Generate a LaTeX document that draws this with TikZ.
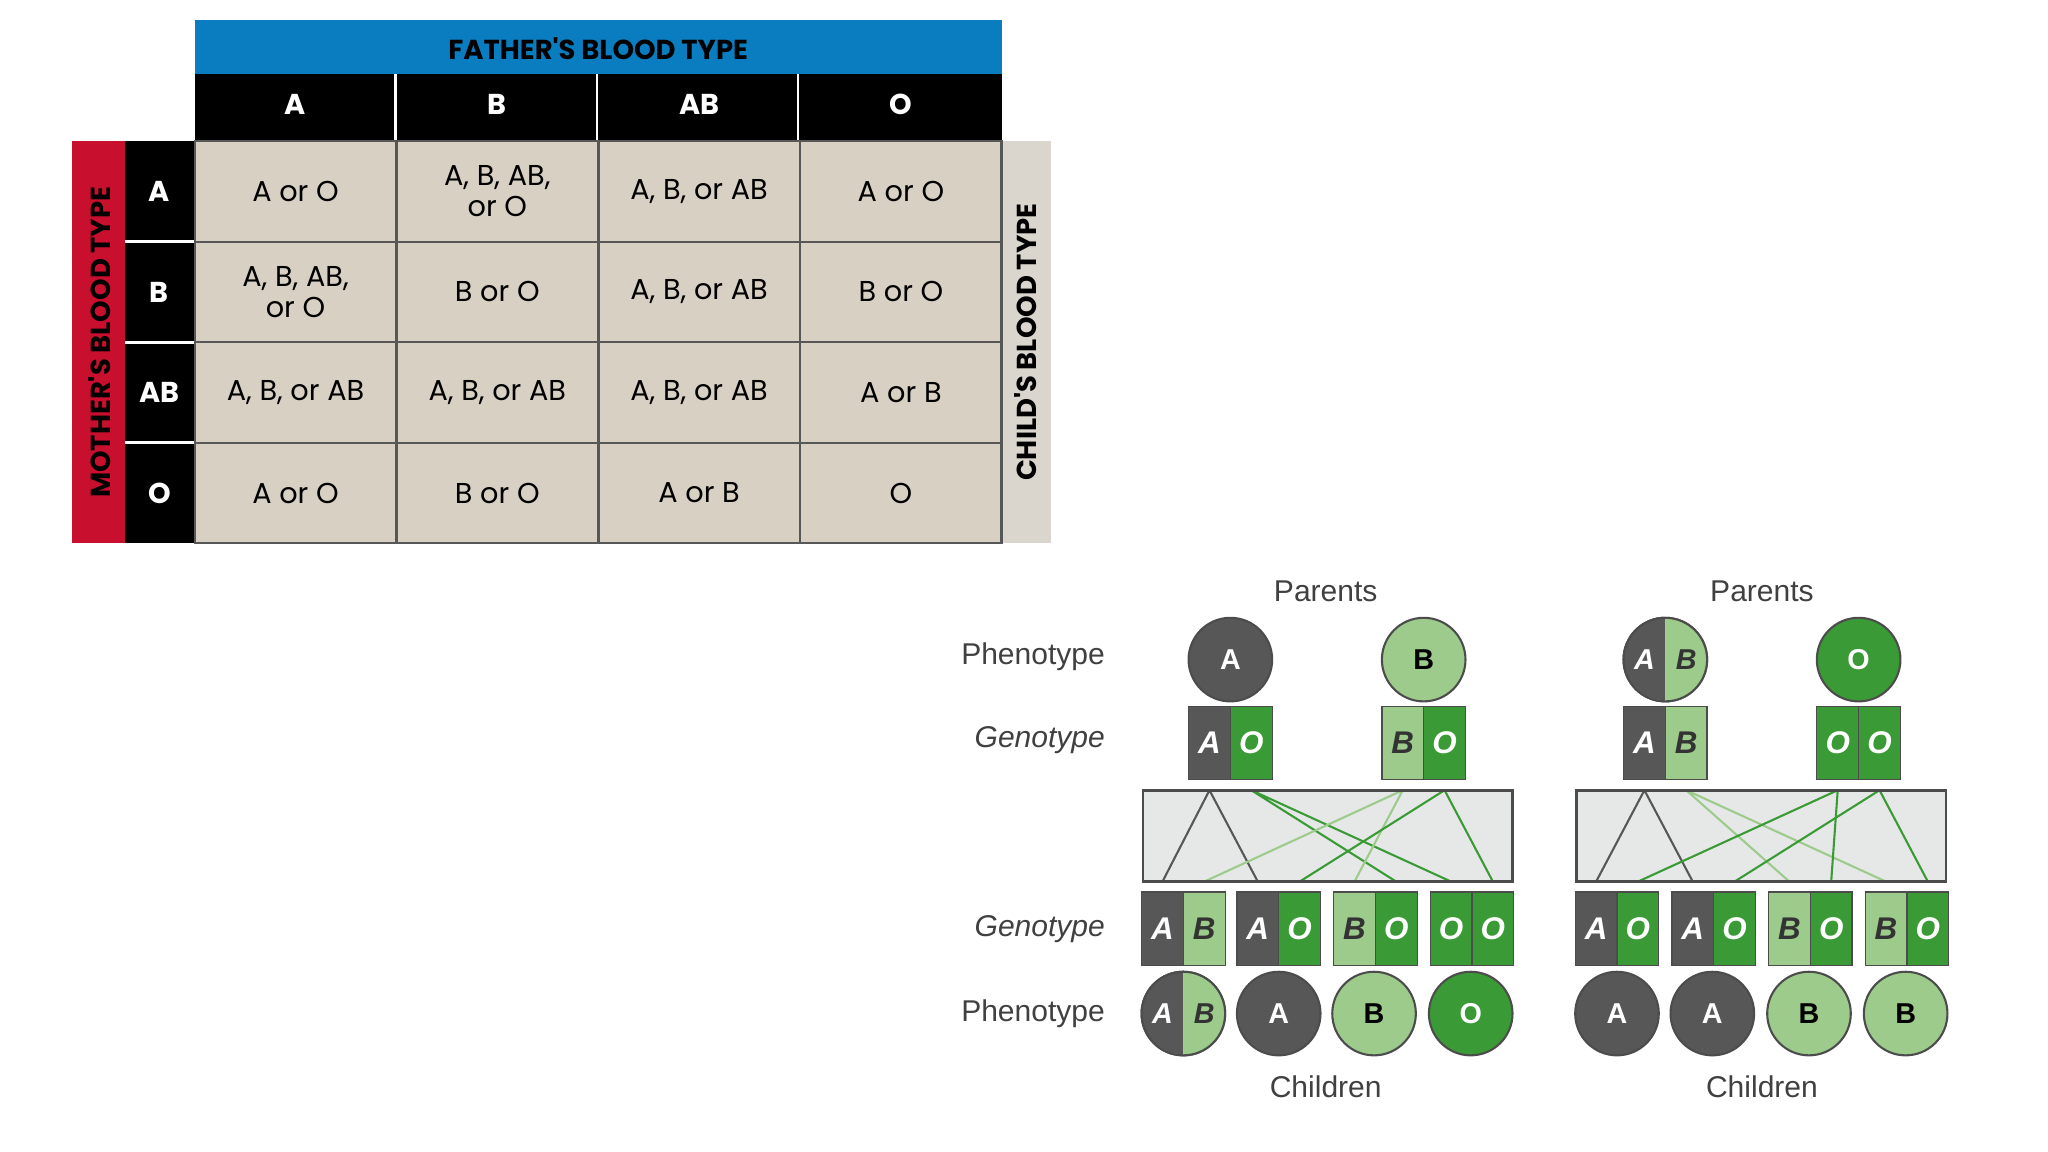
\documentclass[tikz,border=0pt]{standalone}
\usepackage{fontspec}
\setmainfont{Liberation Sans}
\newfontfamily\geo{Poppins}
\definecolor{hdrblue}{HTML}{0A7DC0}
\definecolor{momred}{HTML}{C8102E}
\definecolor{cellbg}{HTML}{D8D0C3}
\definecolor{stripbg}{HTML}{DAD5CD}
\definecolor{dgray}{HTML}{575757}
\definecolor{dgreen}{HTML}{3A9A35}
\definecolor{lgreen}{HTML}{9CCB8C}
\definecolor{boxbg}{HTML}{E6E8E7}
\tikzset{
  cell/.style={draw=dgray, line width=0.8pt, fill=cellbg, minimum width=77pt, minimum height=38.5pt, align=center, font=\geo\fontsize{11}{12}\selectfont},
  head/.style={fill=black, text=white, font=\geo\bfseries\fontsize{11}{12}\selectfont},
  allele/.style={draw=black!70, line width=0.5pt, minimum width=16pt, minimum height=28pt, inner sep=0pt, font=\bfseries\itshape\fontsize{12}{12}\selectfont},
  pheno/.style={circle, draw=black!70, line width=0.8pt, minimum size=32pt, inner sep=0pt, font=\bfseries\fontsize{11}{12}\selectfont},
  lbl/.style={font=\fontsize{11.5}{12}\selectfont, text=black!75},
  link/.style={line width=0.8pt}
}
\begin{document}
\begin{tikzpicture}[x=0.5pt,y=-0.5pt]
		\useasboundingbox (0,0) rectangle (1568,882);
		% table frame
		\fill[hdrblue] (149,15) rectangle (767,57);
		\node[font=\geo\bfseries\fontsize{10.5}{12}\selectfont] (fathers) at (458,37) {FATHER'S BLOOD TYPE};
		\fill[black] (149,57) rectangle (767,108);
		\fill[black] (96,108) rectangle (149,416);
		\fill[momred] (55,108) rectangle (96,416);
		\fill[stripbg] (767,108) rectangle (805,416);
		\node[rotate=90, font=\geo\bfseries\fontsize{10.5}{12}\selectfont] (mothers) at (76,262) {MOTHER'S BLOOD TYPE};
		\node[rotate=90, font=\geo\bfseries\fontsize{10.5}{12}\selectfont] (childs) at (785,262) {CHILD'S BLOOD TYPE};
		\foreach \t [count=\i] in {A,B,AB,O} {
			\node[head] (col\i) at ({149+154.5*(\i-0.5)},80) {\t};
			\node[head] (row\i) at (122,{108+77*(\i-0.5)}) {\t};
		}
		\draw[white, line width=1pt] (303,57) -- (303,108) (457,57) -- (457,108) (611,57) -- (611,108);
		\draw[white, line width=1pt] (96,185) -- (149,185) (96,262) -- (149,262) (96,339) -- (149,339);
		% cells
		\foreach \r/\row in {1/{{A or O},{A, B, AB,\\or O},{A, B, or AB},{A or O}},
		                     2/{{A, B, AB,\\or O},{B or O},{A, B, or AB},{B or O}},
		                     3/{{A, B, or AB},{A, B, or AB},{A, B, or AB},{A or B}},
		                     4/{{A or O},{B or O},{A or B},{O}}} {
			\foreach \txt [count=\c] in \row {
				\node[cell] (c\r\c) at ({149+154.5*(\c-0.5)},{108+77*(\r-0.5)}) {\txt};
			}
		}

		% cross diagrams
		\node[lbl] (parL) at (1015,453) {Parents};
		\node[lbl] (parR) at (1349,453) {Parents};
		\node[lbl] (chL) at (1015,832) {Children};
		\node[lbl] (chR) at (1349,832) {Children};
		\node[lbl, anchor=east] (ph1) at (853,503) {Phenotype};
		\node[lbl, anchor=east, font=\itshape\fontsize{11.5}{12}\selectfont] (gt1) at (853,567) {Genotype};
		\node[lbl, anchor=east, font=\itshape\fontsize{11.5}{12}\selectfont] (gt2) at (853,711) {Genotype};
		\node[lbl, anchor=east] (ph2) at (853,776) {Phenotype};

		\fill[boxbg] (875,605) rectangle (1158,675);
		\fill[boxbg] (1207,605) rectangle (1490,675);

		% parent genotypes
		\foreach \n/\x/\t/\f/\tc in {pa1/926/A/dgray/white, po1/958/O/dgreen/white, pb1/1074/B/lgreen/black!80, po2/1106/O/dgreen/white,
		                             qa1/1259/A/dgray/white, qb1/1291/B/lgreen/black!80, qo1/1407/O/dgreen/white, qo2/1439/O/dgreen/white}
			\node[allele, fill=\f, text=\tc] (\n) at (\x,569) {\t};
		% child genotypes
		\foreach \n/\x/\t/\f/\tc in {k1a/890/A/dgray/white, k1b/922/B/lgreen/black!80, k2a/963/A/dgray/white, k2o/995/O/dgreen/white,
		                             k3b/1037/B/lgreen/black!80, k3o/1069/O/dgreen/white, k4o/1111/O/dgreen/white, k4p/1143/O/dgreen/white,
		                             m1a/1222/A/dgray/white, m1o/1254/O/dgreen/white, m2a/1296/A/dgray/white, m2o/1328/O/dgreen/white,
		                             m3b/1370/B/lgreen/black!80, m3o/1402/O/dgreen/white, m4b/1444/B/lgreen/black!80, m4o/1476/O/dgreen/white}
			\node[allele, fill=\f, text=\tc] (\n) at (\x,711) {\t};

		% crossing lines
		\draw[link, dgray] (926,605) -- (890,675) (926,605) -- (963,675);
		\draw[link, dgreen] (958,605) -- (1069,675) (958,605) -- (1111,675);
		\draw[link, lgreen] (1074,605) -- (922,675) (1074,605) -- (1037,675);
		\draw[link, dgreen] (1106,605) -- (995,675) (1106,605) -- (1143,675);
		\draw[link, dgray] (1259,605) -- (1222,675) (1259,605) -- (1296,675);
		\draw[link, lgreen] (1291,605) -- (1370,675) (1291,605) -- (1444,675);
		\draw[link, dgreen] (1407,605) -- (1254,675) (1407,605) -- (1402,675);
		\draw[link, dgreen] (1439,605) -- (1328,675) (1439,605) -- (1476,675);
		\draw[black!70, line width=1pt] (875,605) rectangle (1158,675);
		\draw[black!70, line width=1pt] (1207,605) rectangle (1490,675);

		% phenotypes
		\node[pheno, fill=dgray, text=white] (fa) at (942,505) {A};
		\node[pheno, fill=lgreen] (fb) at (1090,505) {B};
		\node[pheno] (fab) at (1275,505) {};
		\fill[dgray] (fab.north) arc (90:270:16pt) -- cycle;
		\fill[lgreen] (fab.south) arc (-90:90:16pt) -- cycle;
		\node[pheno, text=white] at (fab) {\phantom{B}};
		\node[font=\bfseries\itshape\fontsize{11}{12}\selectfont, text=white] (fabA) at (1259,505) {A};
		\node[font=\bfseries\itshape\fontsize{11}{12}\selectfont, text=black!80] (fabB) at (1291,505) {B};
		\node[pheno, fill=dgreen, text=white] (fo) at (1423,505) {O};

		\node[pheno] (cab) at (906,776) {};
		\fill[dgray] (cab.north) arc (90:270:16pt) -- cycle;
		\fill[lgreen] (cab.south) arc (-90:90:16pt) -- cycle;
		\node[pheno] at (cab) {};
		\node[font=\bfseries\itshape\fontsize{11}{12}\selectfont, text=white] (cabA) at (890,776) {A};
		\node[font=\bfseries\itshape\fontsize{11}{12}\selectfont, text=black!80] (cabB) at (922,776) {B};
		\node[pheno, fill=dgray, text=white] (ca) at (979,776) {A};
		\node[pheno, fill=lgreen] (cb) at (1052,776) {B};
		\node[pheno, fill=dgreen, text=white] (co) at (1126,776) {O};
		\node[pheno, fill=dgray, text=white] (da1) at (1238,776) {A};
		\node[pheno, fill=dgray, text=white] (da2) at (1311,776) {A};
		\node[pheno, fill=lgreen] (db1) at (1385,776) {B};
		\node[pheno, fill=lgreen] (db2) at (1459,776) {B};
	\end{tikzpicture}
\end{document}
